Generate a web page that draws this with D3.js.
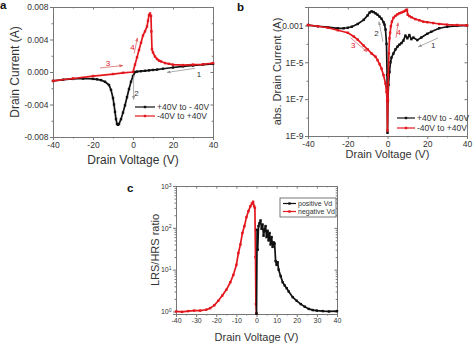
<!DOCTYPE html>
<html>
<head>
<meta charset="utf-8">
<script src="https://cdn.jsdelivr.net/npm/d3@7"></script>
<style>
  body { margin: 0; background: #fff; }
  text { font-family: "Liberation Sans", Arial, sans-serif; }
</style>
</head>
<body>
<div id="chart"></div>
<script>
// ---- data ----
// panel a: drain current (A) vs drain voltage (V)
const aBlackV = [40, 35, 30, 25, 20, 15, 12, 10, 8, 6, 4, 2, 1, 0, -1, -2, -3, -4, -5, -6, -7, -7.5, -8, -8.5, -9, -9.5, -10, -11, -12, -14, -16, -18, -20, -25, -30, -35, -40];
const aBlackI = [0.0010, 0.0009, 0.0008, 0.0007, 0.00055, 0.0004, 0.0003, 0.00025, 0.0002, 0.00015, 0.0001, 0.00005, 0.0, -0.0005, -0.0012, -0.0021, -0.0031, -0.0041, -0.0050, -0.0058, -0.0064, -0.0065, -0.0064, -0.0058, -0.0049, -0.0040, -0.0032, -0.0022, -0.0016, -0.0012, -0.0010, -0.0009, -0.00085, -0.0008, -0.00085, -0.00095, -0.0011];
const aRedV = [-40, -30, -20, -10, -5, 0, 1, 2, 3, 4, 5, 6, 7, 7.5, 8, 8.5, 9, 9.2, 9.5, 10, 11, 12, 13, 14, 16, 18, 20, 25, 30, 35, 40];
const aRedI = [-0.0011, -0.0008, -0.0005, -0.00025, -0.0001, 0.0, 0.0009, 0.0018, 0.0027, 0.0036, 0.0045, 0.0050, 0.0056, 0.0063, 0.0070, 0.0072, 0.0069, 0.0050, 0.0028, 0.0024, 0.0019, 0.0016, 0.0014, 0.0013, 0.0011, 0.0010, 0.0009, 0.00085, 0.0009, 0.00095, 0.0011];

// panel b: abs drain current (A), log scale
const bBlackV = [40, 35, 30, 26, 22, 20, 17, 15, 13, 12, 11, 10, 9, 8, 7, 6, 5, 4, 3, 2, 1.5, 1, 0.5, 0.2, 0, -0.2, -0.5, -1, -1.5, -2, -3, -4, -5, -6, -7, -8, -9, -10, -12, -15, -18, -20, -22, -25, -30, -35, -40];
const bBlackI = [1.0e-3, 9.5e-4, 8.5e-4, 7e-4, 4.5e-4, 3.5e-4, 2.2e-4, 1.6e-4, 2.2e-4, 1.8e-4, 3e-4, 2e-4, 2.8e-4, 1.5e-4, 1.1e-4, 9e-5, 7e-5, 5e-5, 3e-5, 1.8e-5, 1e-5, 3e-6, 6e-7, 8e-8, 1.5e-9, 2e-6, 1e-4, 6e-4, 1.1e-3, 1.5e-3, 2.3e-3, 3e-3, 3.8e-3, 4.5e-3, 5.3e-3, 5.8e-3, 5e-3, 3.5e-3, 2e-3, 1.2e-3, 8.5e-4, 7.5e-4, 7e-4, 7e-4, 8e-4, 9e-4, 1.05e-3];
const bRedV = [-40, -35, -30, -25, -20, -17, -15, -12, -10, -8, -6, -5, -4, -3, -2, -1, -0.5, -0.2, 0, 0.2, 0.4, 0.7, 1, 1.3, 1.7, 2.2, 3, 4, 5, 6, 7, 8, 9, 9.5, 9.8, 10.2, 11, 12, 14, 16, 18, 20, 23, 26, 30, 35, 40];
const bRedI = [1.05e-3, 9e-4, 7.5e-4, 5.5e-4, 4e-4, 2.5e-4, 1.7e-4, 8e-5, 5e-5, 3e-5, 2e-5, 1.3e-5, 8e-6, 4.5e-6, 2e-6, 7e-7, 2.5e-7, 8e-8, 2e-9, 1e-7, 2e-6, 3e-5, 2e-4, 4e-4, 9e-4, 1.6e-3, 2.6e-3, 3.3e-3, 4e-3, 4.6e-3, 5e-3, 5.5e-3, 6.3e-3, 7e-3, 7e-3, 3.8e-3, 3.2e-3, 2.8e-3, 2.2e-3, 1.9e-3, 1.6e-3, 1.5e-3, 1.35e-3, 1.2e-3, 1.1e-3, 1.05e-3, 1.0e-3];

// panel c: LRS/HRS ratio, log scale
const cBlackV = [0, 0.3, 0.6, 1, 1.5, 2, 2.5, 3, 3.5, 4, 4.5, 5, 5.5, 6, 6.5, 7, 7.5, 8, 8.5, 9, 9.5, 10, 10.5, 11, 12, 13, 14, 15, 16, 18, 20, 22, 24, 26, 28, 30, 33, 36, 40];
const cBlackR = [0.88, 90, 30, 110, 130, 150, 95, 120, 65, 90, 110, 60, 85, 50, 75, 40, 60, 35, 45, 42, 16, 13, 15, 10, 7, 5, 4.2, 3.6, 3, 2.2, 1.8, 1.5, 1.3, 1.15, 1.08, 1.05, 1.02, 1.0, 1.02];
const cRedV = [-40, -37, -34, -31, -28, -25, -23, -21, -19, -17, -15, -13, -11.5, -10, -9, -8, -7, -6, -5, -4, -3, -2.3, -1.7, -1.2, -0.8, -0.5, -0.3, 0];
const cRedR = [1.0, 0.98, 1.02, 1.05, 1.05, 1.1, 1.2, 1.4, 1.8, 2.4, 3.3, 5, 7.5, 13, 25, 40, 75, 110, 180, 250, 330, 380, 420, 330, 300, 20, 1.5, 0.9];

const legendA = ["+40V to - 40V", "-40V  to +40V"];
const legendC = ["positive Vd", "negative Vd"];

const BLACK = "#111", RED = "#e3171e", AXIS = "#777", TXT = "#333", ARROW = "#999";

const svg = d3.select("#chart").append("svg")
  .attr("width", 474).attr("height", 346);

svg.append("defs").selectAll("marker")
  .data([["grayHead", ARROW], ["redHead", "#e06a6a"]])
  .join("marker")
  .attr("id", d => d[0])
  .attr("viewBox", "0 0 10 10").attr("refX", 9).attr("refY", 5)
  .attr("markerWidth", 5).attr("markerHeight", 5).attr("orient", "auto")
  .append("path").attr("d", "M0,1L10,5L0,9z").attr("fill", d => d[1]);

function zip(xs, ys) { return xs.map((v, i) => [v, ys[i]]); }

// draws a boxed panel, returns the scales
function panel(o) {
  const x = d3.scaleLinear().domain([-40, 40]).range([o.left, o.right]);
  const y = (o.log ? d3.scaleLog() : d3.scaleLinear()).domain(o.yDomain).range([o.bottom, o.top]);
  const g = svg.append("g");

  const xAx = d3.axisBottom(x).tickValues(o.xTicks).tickSize(3).tickPadding(1.5).tickFormat(d => d);
  const xMin = d3.axisBottom(x).tickValues(o.xMinor).tickSize(1.5).tickFormat("");
  const yAx = d3.axisLeft(y).tickValues(o.yTicks).tickSize(3).tickPadding(1.5).tickFormat(o.yFormat);
  const yMin = d3.axisLeft(y).tickValues(o.yMinor).tickSize(1.5).tickFormat("");

  const gx = g.append("g").attr("transform", `translate(0,${o.bottom})`).call(xAx);
  g.append("g").attr("transform", `translate(0,${o.bottom})`).call(xMin);
  g.append("g").attr("transform", `translate(0,${o.top})`).call(d3.axisBottom(x).tickValues(o.xTicks).tickSize(2.5).tickFormat(""));
  g.append("g").attr("transform", `translate(0,${o.top})`).call(d3.axisBottom(x).tickValues(o.xMinor).tickSize(1.3).tickFormat(""));
  const gy = g.append("g").attr("transform", `translate(${o.left},0)`).call(yAx);
  g.append("g").attr("transform", `translate(${o.left},0)`).call(yMin);
  g.append("g").attr("transform", `translate(${o.right},0)`).call(d3.axisLeft(y).tickValues(o.yTicks).tickSize(2.5).tickFormat(""));
  g.append("g").attr("transform", `translate(${o.right},0)`).call(d3.axisLeft(y).tickValues(o.yMinor).tickSize(1.3).tickFormat(""));

  g.selectAll(".domain").attr("stroke", AXIS).attr("stroke-width", 1);
  g.selectAll(".tick line").attr("stroke", AXIS);
  g.selectAll(".tick text").attr("fill", TXT).style("font-size", "8.5px")
    .style("font-family", '"Liberation Sans", Arial, sans-serif');
  if (o.ySup) {
    gy.selectAll(".tick text").each(function(d) {
      const t = d3.select(this).text("");
      t.append("tspan").text("10");
      t.append("tspan").attr("dy", "-0.45em").style("font-size", "5px").text(Math.round(Math.log10(d)));
    }).style("font-size", "7px");
    gx.selectAll(".tick text").style("font-size", "7px");
  }

  g.append("text").attr("x", (o.left + o.right) / 2).attr("y", o.xTitleY)
    .attr("text-anchor", "middle").attr("fill", TXT).style("font-size", o.titleSize + "px").text("Drain Voltage (V)");
  g.append("text").attr("transform", `translate(${o.yTitleX},${(o.top + o.bottom) / 2}) rotate(-90)`)
    .attr("text-anchor", "middle").attr("fill", TXT).style("font-size", o.titleSize + "px").text(o.yTitle);
  g.append("text").attr("x", o.tag[0]).attr("y", o.tag[1]).attr("fill", "#111")
    .style("font-size", "11.5px").style("font-weight", "bold").text(o.tagText);

  return { g, x, y };
}

function series(p, pts, color) {
  const line = d3.line().x(d => p.x(d[0])).y(d => p.y(d[1]));
  p.g.append("path").datum(pts).attr("d", line).attr("fill", "none")
    .attr("stroke", color).attr("stroke-width", 1.7).attr("stroke-linejoin", "round");
  p.g.append("g").selectAll("rect").data(pts).join("rect")
    .attr("x", d => p.x(d[0]) - 1.2).attr("y", d => p.y(d[1]) - 1.2)
    .attr("width", 2.4).attr("height", 2.4).attr("fill", color);
}

function arrow(p, from, to, color, head) {
  p.g.append("line")
    .attr("x1", p.x(from[0])).attr("y1", p.y(from[1]))
    .attr("x2", p.x(to[0])).attr("y2", p.y(to[1]))
    .attr("stroke", color).attr("stroke-width", 0.8).attr("marker-end", `url(#${head})`);
}
function note(p, at, label, color) {
  p.g.append("text").attr("x", p.x(at[0])).attr("y", p.y(at[1])).attr("text-anchor", "middle")
    .attr("dy", "0.35em").attr("fill", color).style("font-size", "8px").text(label);
}

function legend(p, x0, y0, dy, len, labels, colors, size) {
  labels.forEach((lab, i) => {
    const yy = y0 + i * dy;
    p.g.append("line").attr("x1", x0).attr("x2", x0 + len).attr("y1", yy).attr("y2", yy)
      .attr("stroke", colors[i]).attr("stroke-width", 1.2);
    p.g.append("rect").attr("x", x0 + len / 2 - 1.2).attr("y", yy - 1.2).attr("width", 2.4).attr("height", 2.4).attr("fill", colors[i]);
    p.g.append("text").attr("x", x0 + len + 2).attr("y", yy).attr("dy", "0.35em")
      .attr("fill", TXT).style("font-size", size + "px").text(lab);
  });
}

// ---- panel a ----
const pa = panel({
  left: 53, right: 213, top: 7, bottom: 137,
  yDomain: [-0.008, 0.008], log: false,
  xTicks: [-40, -20, 0, 20, 40], xMinor: [-30, -10, 10, 30],
  yTicks: [-0.008, -0.004, 0, 0.004, 0.008], yMinor: [-0.006, -0.002, 0.002, 0.006],
  yFormat: d => d3.format(".3f")(d).replace("\u2212", "-"),
  xTitleY: 164, yTitleX: 19, titleSize: 12, yTitle: "Drain Current (A)",
  tag: [0, 9], tagText: "a"
});
series(pa, zip(aBlackV, aBlackI), BLACK);
series(pa, zip(aRedV, aRedI), RED);
arrow(pa, [31, 0.00045], [17, -0.00005], ARROW, "grayHead");
note(pa, [33, -0.0003], "1", TXT);
arrow(pa, [0.3, -0.0004], [0.3, -0.0034], ARROW, "grayHead");
note(pa, [1.8, -0.0026], "2", TXT);
arrow(pa, [-16.5, 0.0005], [-5, 0.0008], "#e06a6a", "redHead");
note(pa, [-12.5, 0.0011], "3", RED);
arrow(pa, [0.6, 0.0023], [2.2, 0.0042], "#e06a6a", "redHead");
note(pa, [-0.3, 0.0031], "4", RED);
legend(pa, 135, 107, 9, 20, legendA, [BLACK, RED], 8.5);

// ---- panel b ----
const pb = panel({
  left: 308, right: 467, top: 7, bottom: 136,
  yDomain: [1e-9, 1e-2], log: true,
  xTicks: [-40, -20, 0, 20, 40], xMinor: [-30, -10, 10, 30],
  yTicks: [1e-9, 1e-7, 1e-5, 1e-3], yMinor: [1e-8, 1e-6, 1e-4, 1e-2],
  yFormat: d => d === 1e-3 ? "0.001" : "1E" + Math.round(Math.log10(d)),
  xTitleY: 158, yTitleX: 281, titleSize: 11, yTitle: "abs. Drain Current (A)",
  tag: [237, 11], tagText: "b"
});
series(pb, zip(bBlackV, bBlackI), BLACK);
series(pb, zip(bRedV, bRedI), RED);
arrow(pb, [25.5, 2.1e-4], [15.5, 6.9e-5], ARROW, "grayHead");
note(pb, [23, 8.8e-5], "1", TXT);
arrow(pb, [-2.3, 1.3e-4], [-4.3, 1.6e-3], ARROW, "grayHead");
note(pb, [-5.5, 4e-4], "2", TXT);
arrow(pb, [-18.5, 2.1e-4], [-10.3, 3.7e-5], "#e06a6a", "redHead");
note(pb, [-17.3, 8.8e-5], "3", RED);
arrow(pb, [4.3, 2.1e-4], [5.3, 1.4e-3], "#e06a6a", "redHead");
note(pb, [5.6, 4.5e-4], "4", RED);
legend(pb, 397, 118, 10, 18, legendA, [BLACK, RED], 8.5);

// ---- panel c ----
const pc = panel({
  left: 176, right: 337, top: 186, bottom: 314,
  yDomain: [0.87, 1000], log: true, ySup: true,
  xTicks: [-40, -30, -20, -10, 0, 10, 20, 30, 40], xMinor: [-35, -25, -15, -5, 5, 15, 25, 35],
  yTicks: [1, 10, 100, 1000],
  yMinor: [2, 3, 4, 5, 6, 7, 8, 9, 20, 30, 40, 50, 60, 70, 80, 90, 200, 300, 400, 500, 600, 700, 800, 900],
  yFormat: d => d,
  xTitleY: 341, yTitleX: 159, titleSize: 11, yTitle: "LRS/HRS ratio",
  tag: [127, 192], tagText: "c"
});
series(pc, zip(cRedV, cRedR), RED);
series(pc, zip(cBlackV, cBlackR), BLACK);
pc.g.append("rect").attr("x", 280).attr("y", 198).attr("width", 56).attr("height", 19)
  .attr("fill", "#fff").attr("stroke", "#555").attr("stroke-width", 0.8);
legend(pc, 283, 203.5, 8, 13, legendC, [BLACK, RED], 7);
</script>
</body>
</html>
